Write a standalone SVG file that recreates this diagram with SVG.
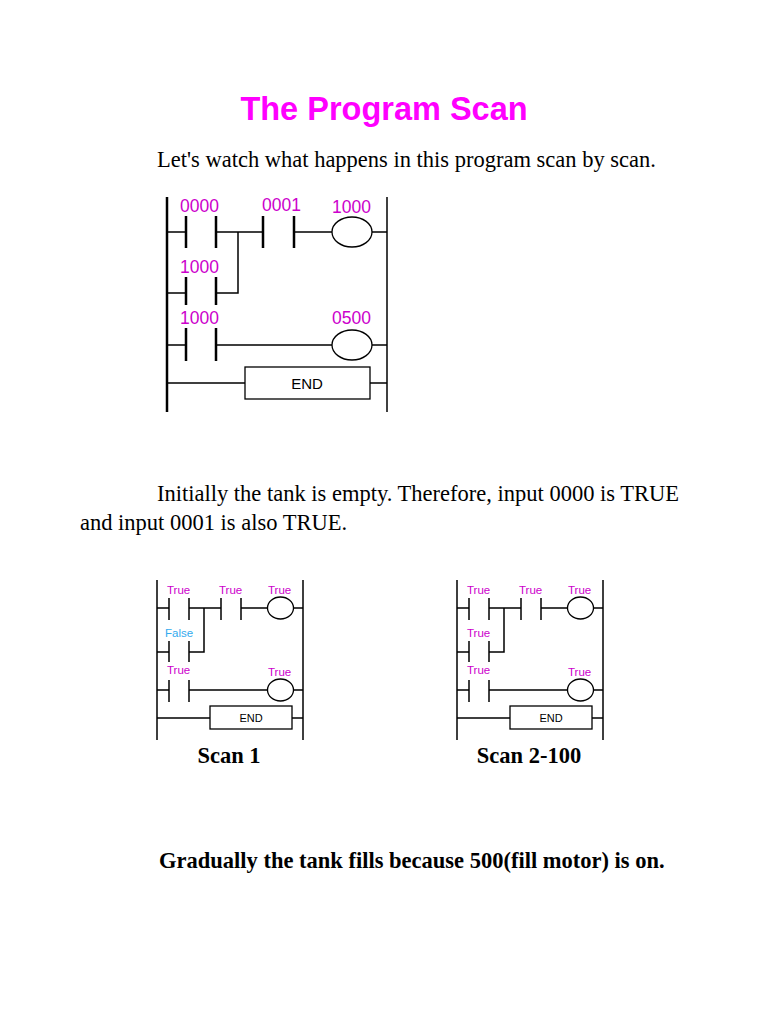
<svg xmlns="http://www.w3.org/2000/svg" width="768" height="1024" viewBox="0 0 768 1024">
<style>
.w{stroke:#000;stroke-width:1.5;fill:none}
.b{stroke:#000;stroke-width:2.5;fill:none}
.c{stroke:#000;stroke-width:1.3;fill:#fff}
.l{font-family:"Liberation Sans",Arial,sans-serif;fill:#cc00cc}
.t{font-family:"Liberation Serif","Times New Roman",serif;font-size:22.5px;fill:#000}
.e{font-family:"Liberation Sans",Arial,sans-serif;fill:#000}
</style>
<rect width="768" height="1024" fill="#fff"/>
<text x="384" y="120" text-anchor="middle" font-family="Liberation Sans,Arial,sans-serif" font-weight="bold" font-size="32.5" fill="#ff00ff">The Program Scan</text>
<text class="t" x="157" y="167">Let's watch what happens in this program scan by scan.</text>
<g id="main">
<g id="connectors">
<path class="b" d="M167 197V412"/><path class="w" d="M387 197V412"/>
<path class="w" d="M167 232H186M216 232H263M238 232V293H216M167 293H186M294 232H332M372 232H387M167 345H186M216 345H332M372 345H387M167 383H245M370 383H387"/>
<path class="b" d="M186 216V248M216 216V248M263 216V248M294 216V248M186 277V305M216 277V305M186 328V361M216 328V361"/>
</g>
<ellipse class="c" cx="352" cy="232" rx="20" ry="15"/>
<ellipse class="c" cx="352" cy="345" rx="20" ry="15"/>
<rect class="c" x="245" y="367" width="125" height="32"/>
<text class="e" x="307" y="389" text-anchor="middle" font-size="15">END</text>
<g class="l" font-size="17.5">
<text x="180" y="212">0000</text><text x="262" y="211">0001</text><text x="332" y="213">1000</text>
<text x="180" y="273">1000</text><text x="180" y="324">1000</text><text x="332" y="324">0500</text>
</g>
</g>
<text class="t" x="157" y="501">Initially the tank is empty. Therefore, input 0000 is TRUE</text>
<text class="t" x="80" y="530">and input 0001 is also TRUE.</text>
<g id="scan1">
<path class="w" d="M157 580V740M303 580V740M157 608H169M189 608H221M204 608V652H189M157 652H169M241 608H267M294 608H303M157 690H169M189 690H267M294 690H303M157 718H210M292 718H303"/>
<path class="w" d="M169 598V620M189 598V620M221 598V620M241 598V620M169 641V662M189 641V662M169 680V702M189 680V702"/>
<ellipse class="c" cx="280.5" cy="608" rx="13" ry="11"/><ellipse class="c" cx="280.5" cy="690" rx="13" ry="11"/>
<rect class="c" x="210" y="706" width="82" height="23"/>
<text class="e" x="251" y="722" text-anchor="middle" font-size="11">END</text>
<g class="l" font-size="11.5"><text x="167" y="594">True</text><text x="219" y="594">True</text><text x="268" y="594">True</text>
<text x="165" y="637" fill="#33aaee">False</text><text x="167" y="674">True</text><text x="268" y="676">True</text></g>
</g>
<g id="scan2" transform="translate(300,0)">
<path class="w" d="M157 580V740M303 580V740M157 608H169M189 608H221M204 608V652H189M157 652H169M241 608H267M294 608H303M157 690H169M189 690H267M294 690H303M157 718H210M292 718H303"/>
<path class="w" d="M169 598V620M189 598V620M221 598V620M241 598V620M169 641V662M189 641V662M169 680V702M189 680V702"/>
<ellipse class="c" cx="280.5" cy="608" rx="13" ry="11"/><ellipse class="c" cx="280.5" cy="690" rx="13" ry="11"/>
<rect class="c" x="210" y="706" width="82" height="23"/>
<text class="e" x="251" y="722" text-anchor="middle" font-size="11">END</text>
<g class="l" font-size="11.5"><text x="167" y="594">True</text><text x="219" y="594">True</text><text x="268" y="594">True</text>
<text x="167" y="637">True</text><text x="167" y="674">True</text><text x="268" y="676">True</text></g>
</g>
<text class="t" x="229" y="763" text-anchor="middle" font-weight="bold" font-size="22">Scan 1</text>
<text class="t" x="529" y="763" text-anchor="middle" font-weight="bold" font-size="22">Scan 2-100</text>
<text class="t" x="159" y="868" font-weight="bold">Gradually the tank fills because 500(fill motor) is on.</text>
</svg>
